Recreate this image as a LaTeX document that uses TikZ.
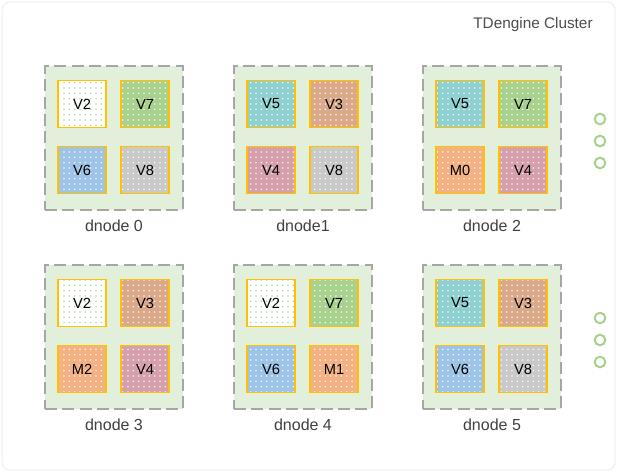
\documentclass[tikz,border=0pt]{standalone}
\usepackage{fontspec}
\setmainfont{Liberation Sans}
\usetikzlibrary{patterns}
\pgfdeclarepatternformonly{sdots}{\pgfqpoint{-1pt}{-1pt}}{\pgfqpoint{1pt}{1pt}}{\pgfqpoint{4pt}{4pt}}{%
  \pgfpathcircle{\pgfqpoint{0pt}{0pt}}{0.6pt}\pgfusepath{fill}}
\definecolor{boxfill}{HTML}{E2EFDA}
\definecolor{vg}{HTML}{A9D18E}
\definecolor{vb}{HTML}{9DC3E6}
\definecolor{vgr}{HTML}{C9C9C9}
\definecolor{vt}{HTML}{8FD0D0}
\definecolor{vtan}{HTML}{D9A98A}
\definecolor{vp}{HTML}{D5A0AC}
\definecolor{vo}{HTML}{F4B183}
\definecolor{bord}{HTML}{FFC000}
\definecolor{dotg}{HTML}{A9D18E}
\begin{document}
\begin{tikzpicture}[x=0.75pt,y=-0.75pt,
  dnode/.style={draw=gray!70,fill=boxfill,dashed,dash pattern=on 9pt off 4pt,line width=2pt,minimum width=103.5pt,minimum height=108pt,inner sep=0pt},
  vn/.style={draw=bord,line width=1pt,minimum width=36pt,minimum height=35pt,inner sep=0pt},
  vt/.style={font=\fontsize{11}{13}\selectfont},
  lab/.style={font=\fontsize{12}{14}\selectfont,text=black!75},
  dot/.style={circle,draw=dotg,line width=1.5pt,minimum size=8pt,inner sep=0pt}]
\useasboundingbox (0,0) rectangle (617,472);
\draw[gray!20,rounded corners=6pt] (2,2) rectangle (615,470);
\node[font=\fontsize{11.5}{13}\selectfont,text=black!70] (title) at (533,25) {TDengine Cluster};
\newcommand{\vsq}[5]{% name, pos, fill, dot color, text
  \path[fill=#3] #2 +(-23.5,-23) rectangle +(23.5,23);
  \path[pattern=sdots,pattern color=#4] #2 +(-23.5,-23) rectangle +(23.5,23);
  \node[vn] (#1) at #2 {};
  \node[vt] at (#1) {#5};}
\foreach \nm/\x/\y/\lb in {d0/114/138/dnode 0,d1/303/138/dnode1,d2/492/138/dnode 2,d3/114/337/dnode 3,d4/303/337/dnode 4,d5/492/337/dnode 5}{
  \node[dnode] (\nm) at (\x,\y) {};
  \node[lab] (\nm l) at (\x,\y+88) {\lb};
}
\vsq{a1}{(82,104)}{white}{dotg}{V2}
\vsq{a2}{(145,104)}{vg}{white}{V7}
\vsq{a3}{(82,170)}{vb}{white}{V6}
\vsq{a4}{(145,170)}{vgr}{white}{V8}
\vsq{b1}{(271,104)}{vt}{white}{V5}
\vsq{b2}{(334,104)}{vtan}{white}{V3}
\vsq{b3}{(271,170)}{vp}{white}{V4}
\vsq{b4}{(334,170)}{vgr}{white}{V8}
\vsq{c1}{(460,104)}{vt}{white}{V5}
\vsq{c2}{(523,104)}{vg}{white}{V7}
\vsq{c3}{(460,170)}{vo}{white}{M0}
\vsq{c4}{(523,170)}{vp}{white}{V4}
\vsq{e1}{(82,303)}{white}{dotg}{V2}
\vsq{e2}{(145,303)}{vtan}{white}{V3}
\vsq{e3}{(82,369)}{vo}{white}{M2}
\vsq{e4}{(145,369)}{vp}{white}{V4}
\vsq{f1}{(271,303)}{white}{dotg}{V2}
\vsq{f2}{(334,303)}{vg}{white}{V7}
\vsq{f3}{(271,369)}{vb}{white}{V6}
\vsq{f4}{(334,369)}{vo}{white}{M1}
\vsq{g1}{(460,303)}{vt}{white}{V5}
\vsq{g2}{(523,303)}{vtan}{white}{V3}
\vsq{g3}{(460,369)}{vb}{white}{V6}
\vsq{g4}{(523,369)}{vgr}{white}{V8}
\foreach \y [count=\i] in {119,141,163,318,340,362}
  \node[dot] (o\i) at (600,\y) {};
\end{tikzpicture}
\end{document}
